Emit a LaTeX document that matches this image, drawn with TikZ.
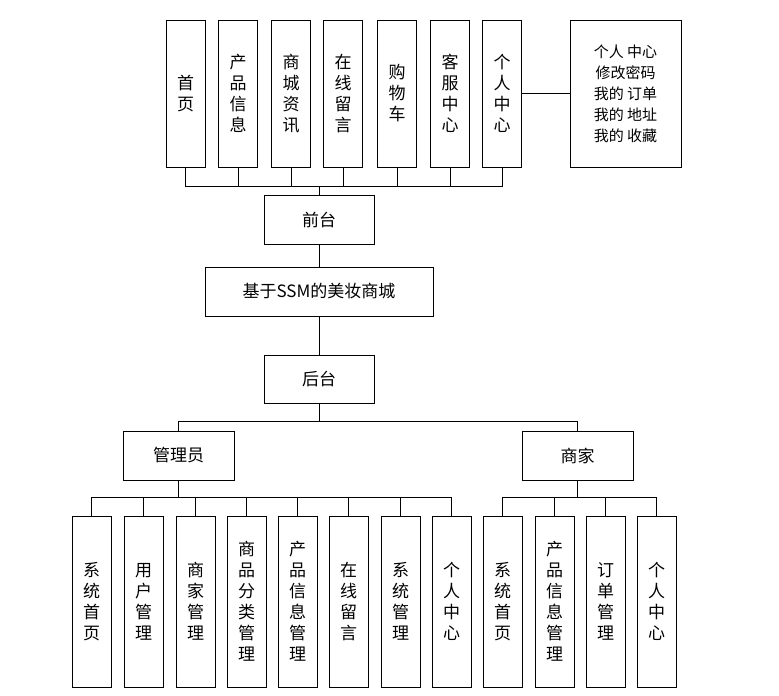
\documentclass[tikz,border=0pt]{standalone}
\usepackage{fontspec}
\setmainfont{Noto Sans CJK SC}
\begin{document}
\begin{tikzpicture}[x=1pt,y=-1pt,
  bx/.style={draw,line width=0.8pt,inner sep=0pt,font=\fontsize{17}{21}\selectfont,align=center},
  ln/.style={line width=0.8pt}]
\useasboundingbox (0,0) rectangle (779,696);
% top boxes
\foreach \n/\x/\t in {t1/185.5/首\\页, t2/238/产\\品\\信\\息, t3/291/商\\城\\资\\讯, t4/343/在\\线\\留\\言, t5/397/购\\物\\车, t6/450/客\\服\\中\\心, t7/502/个\\人\\中\\心}
  \node[bx,minimum width=39pt,minimum height=147pt] (\n) at (\x,93.5) {\t};
\node[bx,minimum width=111pt,minimum height=147pt,font=\fontsize{15}{21}\selectfont] (ur) at (625.5,93.5) {个人 中心\\修改密码\\我的 订单\\我的 地址\\我的 收藏};
\draw[ln] (t7.east) -- (t7.east -| ur.west);
\node[bx,minimum width=110pt,minimum height=49pt] (qt) at (319,219.5) {前台};
\node[bx,minimum width=228pt,minimum height=49pt] (main) at (319,291.5) {基于SSM的美妆商城};
\node[bx,minimum width=110pt,minimum height=48pt] (ht) at (319,379) {后台};
\coordinate (tb) at (0,186);
\draw[ln] (t1.south) |- (tb -| t7.south) -- (t7.south);
\foreach \n in {t2,t3,t4,t5,t6} \draw[ln] (\n.south) -- (\n.south |- tb);
\draw[ln] (qt.north) -- (qt.north |- tb);
\draw[ln] (qt) -- (main);
\draw[ln] (main) -- (ht);
\node[bx,minimum width=111pt,minimum height=49pt] (gly) at (178.5,455.5) {管理员};
\node[bx,minimum width=111pt,minimum height=49pt] (sj) at (577.5,455.5) {商家};
\coordinate (mb) at (0,421);
\draw[ln] (ht.south) -- (ht.south |- mb);
\draw[ln] (gly.north) |- (sj.north |- mb) -- (sj.north);
% bottom boxes
\foreach \n/\x/\t in {b1/91.5/系\\统\\首\\页, b2/143.5/用\\户\\管\\理, b3/195.5/商\\家\\管\\理, b4/246.5/商\\品\\分\\类\\管\\理, b5/297.5/产\\品\\信\\息\\管\\理, b6/348.5/在\\线\\留\\言, b7/400.5/系\\统\\管\\理, b8/451.5/个\\人\\中\\心, b9/502.5/系\\统\\首\\页, b10/554.5/产\\品\\信\\息\\管\\理, b11/605.5/订\\单\\管\\理, b12/656.5/个\\人\\中\\心}
  \node[bx,minimum width=39pt,minimum height=171pt] (\n) at (\x,601.5) {\t};
\coordinate (bb) at (0,497);
\draw[ln] (gly.south) -- (gly.south |- bb);
\draw[ln] (b1.north) |- (b8.north |- bb) -- (b8.north);
\foreach \n in {b2,b3,b4,b5,b6,b7} \draw[ln] (\n.north) -- (\n.north |- bb);
\draw[ln] (sj.south) -- (sj.south |- bb);
\draw[ln] (b9.north) |- (b12.north |- bb) -- (b12.north);
\foreach \n in {b10,b11} \draw[ln] (\n.north) -- (\n.north |- bb);
\end{tikzpicture}
\end{document}
